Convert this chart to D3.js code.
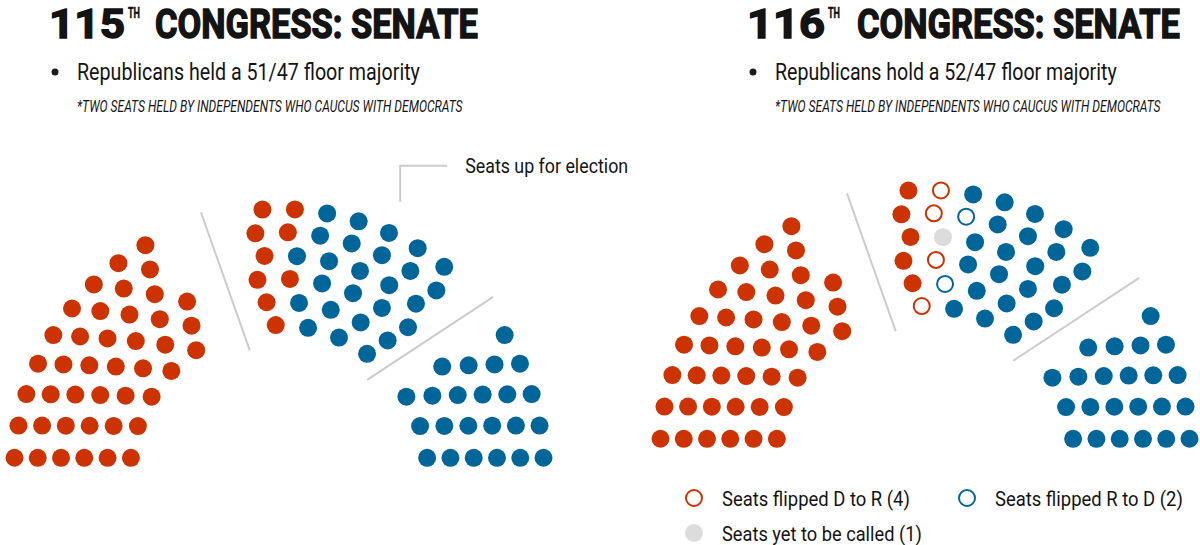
<!DOCTYPE html>
<html><head><meta charset="utf-8">
<script src="https://cdn.jsdelivr.net/npm/d3@7"></script>
<style>
body{margin:0;background:#fff;}
svg{display:block;}
text{font-family:Roboto,"Noto Sans",sans-serif;fill:#141414;}
</style>
</head><body>
<svg id="chart" width="1200" height="545"></svg>
<script>
// ---------------- DATA ----------------
const categories = ["Republican", "Flipped D to R", "Yet to be called", "Flipped R to D", "Democrat"];
const sections = ["Not up for election (R)", "Up for election", "Not up for election (D)"];
// seat counts per category, in the order of `categories`
const seats115NotUpLeft  = [42, 0, 0, 0, 0];
const seats115Up         = [9, 0, 0, 0, 26];
const seats115NotUpRight = [0, 0, 0, 0, 23];
const seats116NotUpLeft  = [42, 0, 0, 0, 0];
const seats116Up         = [5, 4, 1, 2, 23];
const seats116NotUpRight = [0, 0, 0, 0, 23];
const congressNumbers = ["115", "116"];
const titleSuffix = "CONGRESS: SENATE";
const subtitles = ["Republicans held a 51/47 floor majority", "Republicans hold a 52/47 floor majority"];
const footnote = "*TWO SEATS HELD BY INDEPENDENTS WHO CAUCUS WITH DEMOCRATS";
const annotationLabel = "Seats up for election";
const legendCategories = ["Flipped D to R", "Flipped R to D", "Yet to be called"];
const legendLabels = ["Seats flipped D to R (4)", "Seats flipped R to D (2)", "Seats yet to be called (1)"];

// ---------------- LAYOUT ----------------
const svg = d3.select("#chart");
const RINGS = 6;
const DOT_R = 9;
const SPACING = 32.5; // arc distance between neighbouring seats
const ringRadius = d3.scaleLinear().domain([0, RINGS - 1]).range([149, 265]);
// wedge anchoring: left wedge starts at 180° going up, right at 0° going up, middle centred
const wedgeModes = [{start: 180, dir: -1}, {center: 72.5}, {start: 0, dir: 1}];
const toRad = d3.scaleLinear().domain([0, 180]).range([Math.PI / 2, -Math.PI / 2]);

const fillScale = d3.scaleOrdinal(categories, ["#cc3300", "#ffffff", "#dcdcdc", "#ffffff", "#006699"]);
const strokeScale = d3.scaleOrdinal(categories, ["none", "#cc3300", "none", "#006699", "none"]);

function allocate(total) {
  const w = d3.range(RINGS).map(ringRadius);
  const sum = d3.sum(w);
  const raw = w.map(v => total * v / sum);
  const n = raw.map(Math.floor);
  const rem = total - d3.sum(n);
  const order = d3.range(RINGS).sort((a, b) => (raw[b] - n[b]) - (raw[a] - n[a]));
  for (let i = 0; i < rem; i++) n[order[i]]++;
  return n;
}

function wedgeSeats(counts, mode) {
  const perRing = allocate(d3.sum(counts));
  const seats = [];
  perRing.forEach((n, ring) => {
    const step = SPACING / ringRadius(ring) * 180 / Math.PI;
    for (let j = 0; j < n; j++) {
      const deg = mode.center !== undefined
        ? mode.center + ((n - 1) / 2 - j) * step
        : mode.start + mode.dir * (j + 0.5) * step;
      seats.push({ring, deg});
    }
  });
  seats.sort((a, b) => (b.deg - a.deg) || (b.ring - a.ring));
  let k = 0;
  counts.forEach((c, ci) => { for (let i = 0; i < c; i++) seats[k++].cat = categories[ci]; });
  return seats;
}

// draw a text and squeeze it horizontally to a target width (condensed look)
function fitText(parent, x, y, width, str, attrs) {
  const t = parent.append("text").text(str);
  Object.entries(attrs).forEach(([k, v]) => t.attr(k, v));
  const natural = t.node().getComputedTextLength();
  t.attr("transform", `translate(${x},${y}) scale(${width / natural},1)`);
  return t;
}

const panels = [
  {num: congressNumbers[0], sub: subtitles[0], cx: 279, cy: 474, x0: 49,
   wedges: [seats115NotUpLeft, seats115Up, seats115NotUpRight], annotate: true, legend: false,
   numW: 76, sfx: 155, sfxW: 323, subW: 343},
  {num: congressNumbers[1], sub: subtitles[1], cx: 925, cy: 455, x0: 747,
   wedges: [seats116NotUpLeft, seats116Up, seats116NotUpRight], annotate: false, legend: true,
   numW: 78, sfx: 857, sfxW: 323, subW: 342}
];

const titleAttrs = {"font-family": "'Liberation Sans', Arial, sans-serif", "font-size": 41,
  "font-weight": 700, "fill": "#111", "stroke": "#111", "stroke-width": 1.4};

panels.forEach(p => {
  const g = svg.append("g");
  // Title
  fitText(g, p.x0, 37.5, p.numW, p.num, titleAttrs);
  fitText(g, p.x0 + p.numW + 3, 18, 12, "TH",
    {"font-family": "'Liberation Sans', Arial, sans-serif", "font-size": 14, "font-weight": 700,
     "fill": "#111", "stroke": "#111", "stroke-width": 0.5});
  fitText(g, p.sfx, 37.5, p.sfxW, titleSuffix, titleAttrs);
  // Bullet + subtitle
  g.append("circle").attr("cx", p.x0 + 6).attr("cy", 72).attr("r", 3.5).attr("fill", "#1a1a1a");
  fitText(g, p.x0 + 28, 80, p.subW, p.sub, {"font-size": 24});
  fitText(g, p.x0 + 28, 112, 386, footnote, {"font-size": 16, "font-style": "italic"});

  const pc = g.append("g").attr("transform", `translate(${p.cx},${p.cy})`);
  // separators between wedges
  const sepLines = [[[127, 103.3], [273, 106.6]], [[129, 46.9], [278, 39.6]]];
  sepLines.forEach(([a, b]) => {
    const pa = d3.pointRadial(toRad(a[1]), a[0]);
    const pb = d3.pointRadial(toRad(b[1]), b[0]);
    pc.append("line").attr("x1", pa[0]).attr("y1", pa[1]).attr("x2", pb[0]).attr("y2", pb[1])
      .attr("stroke", "#cccccc").attr("stroke-width", 2);
  });
  // seats
  p.wedges.forEach((counts, wi) => {
    const seats = wedgeSeats(counts, wedgeModes[wi]);
    pc.append("g").attr("class", "wedge").attr("data-section", sections[wi])
      .selectAll("circle").data(seats).join("circle")
      .attr("cx", d => d3.pointRadial(toRad(d.deg), ringRadius(d.ring))[0])
      .attr("cy", d => d3.pointRadial(toRad(d.deg), ringRadius(d.ring))[1])
      .attr("r", d => strokeScale(d.cat) === "none" ? DOT_R : DOT_R - 1)
      .attr("fill", d => fillScale(d.cat))
      .attr("stroke", d => strokeScale(d.cat))
      .attr("stroke-width", 2);
  });
  // annotation
  if (p.annotate) {
    const s = d3.pointRadial(toRad(66), 298);
    pc.append("path")
      .attr("d", `M${s[0]},${s[1]}V${s[1] - 36}H${s[0] + 47}`)
      .attr("fill", "none").attr("stroke", "#cccccc").attr("stroke-width", 2);
    fitText(pc, s[0] + 65, s[1] - 29, 163, annotationLabel, {"font-size": 21});
  }
  // legend
  if (p.legend) {
    const lg = pc.append("g").attr("transform", "translate(-231,43)");
    const pos = [[0, 0], [273, 0], [0, 35]];
    const widths = [188, 188, 200];
    legendCategories.forEach((c, i) => {
      const item = lg.append("g").attr("transform", `translate(${pos[i][0]},${pos[i][1]})`);
      item.append("circle").attr("r", strokeScale(c) === "none" ? DOT_R : DOT_R - 1)
        .attr("fill", fillScale(c)).attr("stroke", strokeScale(c)).attr("stroke-width", 2);
      fitText(item, 28, 8, widths[i], legendLabels[i], {"font-size": 21});
    });
  }
});
</script>
</body></html>
